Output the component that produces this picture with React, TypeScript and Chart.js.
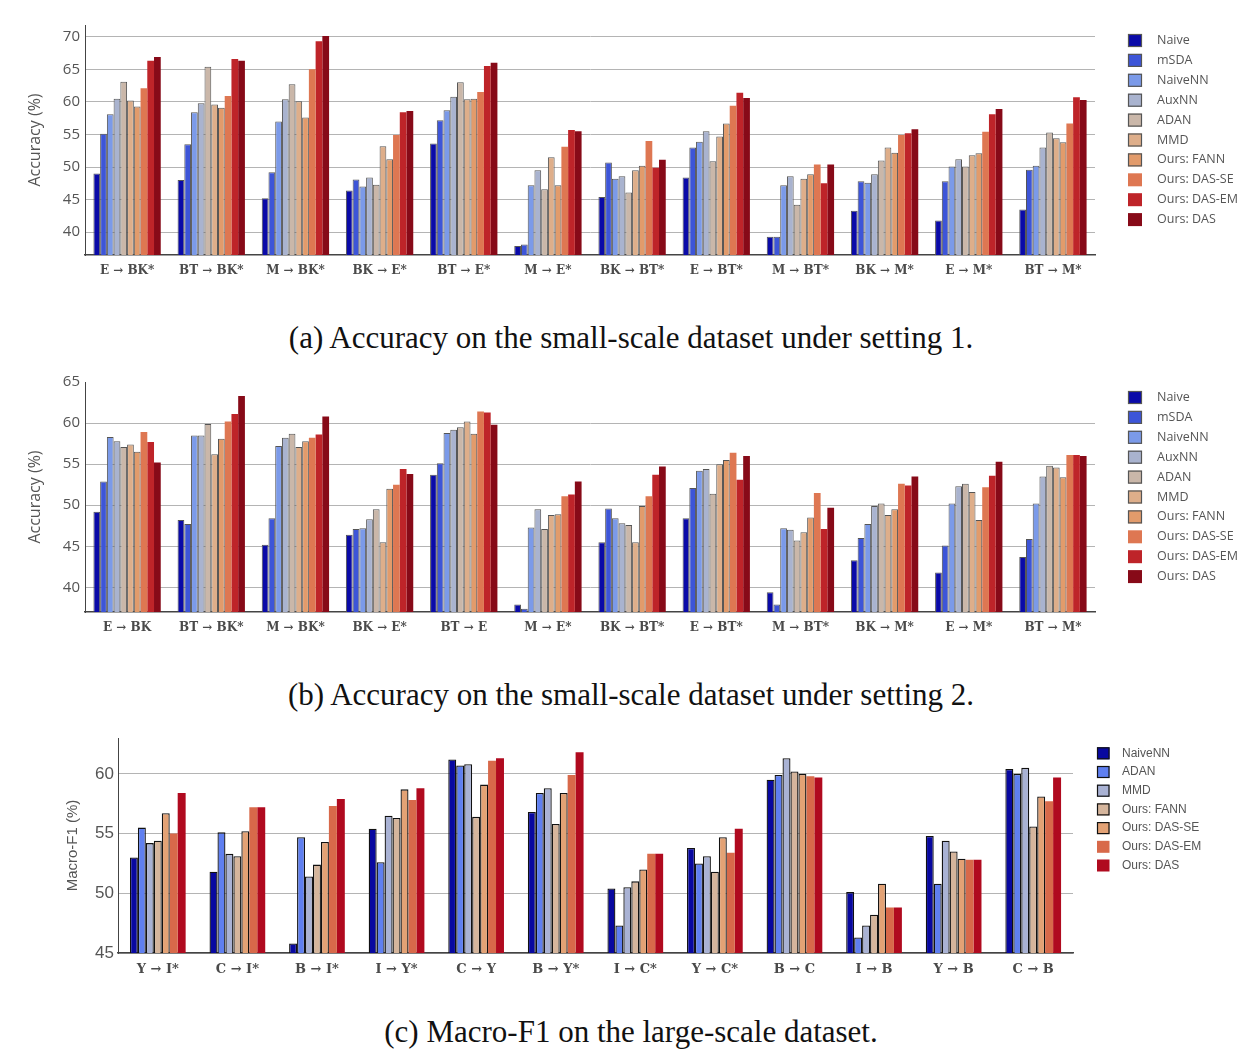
import React, { useEffect, useRef } from "react";
import { Chart, registerables } from "chart.js";

Chart.register(...registerables);

// ---------- Panel (a): small-scale dataset, setting 1 ----------
const catsA = ["E → BK*", "BT → BK*", "M → BK*", "BK → E*", "BT → E*", "M → E*", "BK → BT*", "E → BT*", "M → BT*", "BK → M*", "E → M*", "BT → M*"];
const aNaive = [49.0, 48.0, 45.2, 46.4, 53.6, 37.9, 45.4, 48.4, 39.3, 43.3, 41.8, 43.5];
const aMSDA = [55.1, 53.5, 49.2, 48.1, 57.2, 38.1, 50.7, 53.0, 39.3, 47.8, 47.8, 49.6];
const aNaiveNN = [58.1, 58.4, 57.0, 47.0, 58.7, 47.2, 48.2, 53.9, 47.2, 47.6, 50.1, 50.2];
const aAuxNN = [60.5, 59.8, 60.4, 48.4, 60.8, 49.5, 48.6, 55.5, 48.6, 48.9, 51.2, 53.0];
const aADAN = [63.1, 65.4, 62.7, 47.3, 63.0, 46.6, 46.1, 50.9, 44.2, 51.0, 50.1, 55.3];
const aMMD = [60.2, 59.6, 60.1, 53.2, 60.4, 51.5, 49.5, 54.7, 48.2, 53.0, 51.8, 54.4];
const aFANN = [59.3, 59.1, 57.6, 51.2, 60.5, 47.2, 50.2, 56.7, 48.9, 52.2, 52.1, 53.8];
const aDASSE = [62.1, 60.9, 65.0, 54.9, 61.5, 53.1, 54.0, 59.4, 50.4, 54.9, 55.4, 56.7];
const aDASEM = [66.3, 66.6, 69.3, 58.4, 65.5, 55.7, 49.9, 61.4, 47.5, 55.2, 58.1, 60.7];
const aDAS = [66.9, 66.3, 70.1, 58.6, 66.0, 55.5, 51.1, 60.6, 50.4, 55.8, 58.9, 60.3];

// ---------- Panel (b): small-scale dataset, setting 2 ----------
const catsB = ["E → BK", "BT → BK*", "M → BK*", "BK → E*", "BT → E", "M → E*", "BK → BT*", "E → BT*", "M → BT*", "BK → M*", "E → M*", "BT → M*"];
const bNaive = [49.2, 48.2, 45.2, 46.4, 53.7, 37.9, 45.5, 48.4, 39.4, 43.3, 41.8, 43.7];
const bMSDA = [52.9, 47.7, 48.4, 47.1, 55.1, 37.4, 49.6, 52.1, 37.9, 46.0, 45.1, 45.9];
const bNaiveNN = [58.3, 58.5, 57.2, 47.2, 58.8, 47.3, 48.4, 54.2, 47.2, 47.7, 50.2, 50.2];
const bAuxNN = [57.8, 58.5, 58.2, 48.3, 59.2, 49.5, 47.8, 54.4, 47.0, 49.9, 52.3, 53.5];
const bADAN = [57.1, 59.9, 58.7, 49.5, 59.5, 47.1, 47.6, 51.4, 45.7, 50.2, 52.6, 54.8];
const bMMD = [57.4, 56.2, 57.1, 45.5, 60.2, 48.8, 45.5, 55.0, 46.7, 48.8, 51.6, 54.6];
const bFANN = [56.5, 58.1, 57.8, 52.0, 58.7, 48.9, 49.9, 55.5, 48.5, 49.5, 48.2, 53.4];
const bDASSE = [58.9, 60.2, 58.2, 52.5, 61.4, 51.1, 51.1, 56.4, 51.5, 52.6, 52.2, 56.1];
const bDASEM = [57.7, 61.1, 58.6, 54.4, 61.3, 51.3, 53.7, 53.1, 47.1, 52.4, 53.6, 56.1];
const bDAS = [55.2, 63.3, 60.8, 53.8, 59.8, 52.9, 54.7, 56.0, 49.7, 53.5, 55.3, 56.0];

// ---------- Panel (c): large-scale dataset ----------
const catsC = ["Y → I*", "C → I*", "B → I*", "I → Y*", "C → Y", "B → Y*", "I → C*", "Y → C*", "B → C", "I → B", "Y → B", "C → B"];
const cNaiveNN = [53.0, 51.8, 45.8, 55.4, 61.2, 56.8, 50.4, 53.8, 59.5, 50.1, 54.8, 60.4];
const cADAN = [55.5, 55.1, 54.7, 52.6, 60.7, 58.4, 47.3, 52.5, 59.9, 46.3, 50.8, 60.0];
const cMMD = [54.2, 53.3, 51.4, 56.5, 60.8, 58.8, 50.5, 53.1, 61.3, 47.3, 54.4, 60.5];
const cFANN = [54.4, 53.1, 52.4, 56.3, 56.4, 55.8, 51.0, 51.8, 60.2, 48.2, 53.5, 55.6];
const cDASSE = [56.7, 55.2, 54.3, 58.7, 59.1, 58.4, 52.0, 54.7, 60.0, 50.8, 52.9, 58.1];
const cDASEM = [55.0, 57.2, 57.3, 57.8, 61.1, 59.9, 53.3, 53.4, 59.8, 48.8, 52.8, 57.7];
const cDAS = [58.4, 57.2, 57.9, 58.8, 61.3, 61.8, 53.3, 55.4, 59.7, 48.8, 52.8, 59.7];

const labelsAB = ["Naive", "mSDA", "NaiveNN", "AuxNN", "ADAN", "MMD", "Ours: FANN", "Ours: DAS-SE", "Ours: DAS-EM", "Ours: DAS"];
const colorsAB = ["#0a0aa8", "#3d55d8", "#7b9ae9", "#a9b3cf", "#cab7a9", "#deae8a", "#e29b6b", "#de7752", "#be2429", "#870a18"];
const bordersAB = [true, true, true, true, true, true, true, false, false, false];

const labelsC = ["NaiveNN", "ADAN", "MMD", "Ours: FANN", "Ours: DAS-SE", "Ours: DAS-EM", "Ours: DAS"];
const colorsC = ["#0808a0", "#5f7ff0", "#a9b2d4", "#d5b59c", "#e3a275", "#d8694a", "#b00a1f"];
const bordersC = [true, true, true, true, true, false, false];

const legendPlugin = {
  id: "sideLegend",
  afterDraw(chart: any, _args: any, o: any) {
    if (!o || !o.enabled) return;
    const ctx = chart.ctx;
    ctx.save();
    chart.data.datasets.forEach((ds: any, i: number) => {
      const cy = o.y0 + i * o.step;
      const x = o.boxX;
      const w = o.boxW;
      const h = o.boxH;
      ctx.fillStyle = ds.backgroundColor;
      ctx.fillRect(x, cy - h / 2, w, h);
      if (ds.borderWidth > 0) {
        ctx.strokeStyle = o.borderColor;
        ctx.lineWidth = 1.2;
        ctx.strokeRect(x + 0.5, cy - h / 2 + 0.5, w - 1, h - 1);
      }
      ctx.fillStyle = o.textColor;
      ctx.font = o.font;
      ctx.textBaseline = "middle";
      ctx.textAlign = "left";
      ctx.fillText(ds.label, o.textX, cy);
    });
    ctx.restore();
  },
};

type PanelSpec = {
  cats: string[];
  series: number[][];
  labels: string[];
  colors: string[];
  borders: boolean[];
  borderColor: string;
  borderWidth: number;
  min: number;
  max: number;
  hideTop: boolean;
  yLeft: number;
  padRight: number;
  xHeight: number;
  catPct: number;
  yTitle: string;
  yTitlePad: number;
  yTitleFont: any;
  yTickFont: any;
  yTickPad: number;
  xTickFont: any;
  xTickPad: number;
  legend: any;
};

const W = 1259;
const H = 300;

function PanelChart({ spec, top }: { spec: PanelSpec; top: number }) {
  const ref = useRef<HTMLCanvasElement>(null);
  useEffect(() => {
    if (!ref.current) return;
    const datasets = spec.series.map((d, i) => ({
      label: spec.labels[i],
      data: d,
      backgroundColor: spec.colors[i],
      borderColor: spec.borderColor,
      borderWidth: spec.borders[i] ? spec.borderWidth : 0,
      categoryPercentage: spec.catPct,
      barPercentage: 1.0,
    }));
    const chart = new Chart(ref.current, {
      type: "bar",
      data: { labels: spec.cats, datasets },
      plugins: [legendPlugin as any],
      options: {
        animation: false,
        responsive: false,
        maintainAspectRatio: false,
        devicePixelRatio: 1,
        layout: { padding: { top: 25, right: spec.padRight, left: 0, bottom: 0 } },
        plugins: {
          legend: { display: false },
          tooltip: { enabled: false },
          sideLegend: spec.legend,
        } as any,
        scales: {
          x: {
            grid: { display: false, drawTicks: false },
            border: { display: true, color: "#444", width: 1.5 },
            ticks: { font: spec.xTickFont, color: "#4a4a4a", padding: spec.xTickPad, maxRotation: 0, autoSkip: false },
            afterFit: (s: any) => {
              s.height = spec.xHeight;
            },
          },
          y: {
            min: spec.min,
            max: spec.max,
            grid: {
              drawTicks: false,
              color: (c: any) => (spec.hideTop && c.tick && c.tick.value === spec.max ? "rgba(0,0,0,0)" : "#b4b4b4"),
              lineWidth: 1,
            },
            border: { display: true, color: "#444", width: 1 },
            ticks: { stepSize: 5, includeBounds: false, font: spec.yTickFont, color: "#555", padding: spec.yTickPad },
            title: { display: true, text: spec.yTitle, font: spec.yTitleFont, color: "#555", padding: { top: spec.yTitlePad, bottom: 0 } },
            afterFit: (s: any) => {
              s.width = spec.yLeft;
            },
          },
        },
      } as any,
    });
    return () => chart.destroy();
  }, []);
  return (
    <canvas
      ref={ref}
      width={W}
      height={H}
      style={{ position: "absolute", left: 0, top, width: W, height: H }}
    />
  );
}

const legendAB = {
  enabled: true,
  boxX: 1128,
  boxW: 14,
  boxH: 13,
  y0: 40.5,
  step: 19.9,
  textX: 1157,
  font: "12.5px 'Open Sans'",
  textColor: "#555",
  borderColor: "#555",
};

const legendC = {
  enabled: true,
  boxX: 1097,
  boxW: 12.5,
  boxH: 12,
  y0: 40.3,
  step: 18.7,
  textX: 1122,
  font: "12px 'Liberation Sans'",
  textColor: "#555",
  borderColor: "#111",
};

const specA: PanelSpec = {
  cats: catsA,
  series: [aNaive, aMSDA, aNaiveNN, aAuxNN, aADAN, aMMD, aFANN, aDASSE, aDASEM, aDAS],
  labels: labelsAB,
  colors: colorsAB,
  borders: bordersAB,
  borderColor: "#555",
  borderWidth: 1,
  min: 36.5,
  max: 71.8,
  hideTop: false,
  yLeft: 85,
  padRight: W - 1095,
  xHeight: 45,
  catPct: 0.8,
  yTitle: "Accuracy (%)",
  yTitlePad: 26,
  yTitleFont: { family: "'Open Sans'", size: 16 },
  yTickFont: { family: "'Open Sans'", size: 15 },
  yTickPad: 5,
  xTickFont: { family: "'DejaVu Serif'", size: 12, weight: "bold" },
  xTickPad: 9,
  legend: legendAB,
};

const specB: PanelSpec = {
  ...specA,
  cats: catsB,
  series: [bNaive, bMSDA, bNaiveNN, bAuxNN, bADAN, bMMD, bFANN, bDASSE, bDASEM, bDAS],
  min: 37,
  max: 65,
  hideTop: true,
};

const specC: PanelSpec = {
  cats: catsC,
  series: [cNaiveNN, cADAN, cMMD, cFANN, cDASSE, cDASEM, cDAS],
  labels: labelsC,
  colors: colorsC,
  borders: bordersC,
  borderColor: "#111",
  borderWidth: 1.3,
  min: 45,
  max: 63,
  hideTop: false,
  yLeft: 118,
  padRight: W - 1073,
  xHeight: 60,
  catPct: 0.7,
  yTitle: "Macro-F1 (%)",
  yTitlePad: 64,
  yTitleFont: { family: "'Liberation Sans'", size: 15 },
  yTickFont: { family: "'Liberation Sans'", size: 17 },
  yTickPad: 4,
  xTickFont: { family: "'DejaVu Serif'", size: 13, weight: "bold" },
  xTickPad: 9,
  legend: legendC,
};

const captionStyle = (top: number): React.CSSProperties => ({
  position: "absolute",
  left: 0,
  top,
  width: 1262,
  textAlign: "center",
  fontFamily: "'Liberation Serif', 'Times New Roman', serif",
  fontSize: 31,
  lineHeight: "36px",
  color: "#111",
  whiteSpace: "nowrap",
});

export default function App() {
  return (
    <div style={{ position: "absolute", left: 0, top: 0, width: W, height: 1050, background: "#fff", overflow: "hidden" }}>
      <PanelChart spec={specA} top={0} />
      <div style={captionStyle(320)}>(a) Accuracy on the small-scale dataset under setting 1.</div>
      <PanelChart spec={specB} top={357} />
      <div style={captionStyle(677)}>(b) Accuracy on the small-scale dataset under setting 2.</div>
      <PanelChart spec={specC} top={713} />
      <div style={captionStyle(1014)}>(c) Macro-F1 on the large-scale dataset.</div>
    </div>
  );
}
